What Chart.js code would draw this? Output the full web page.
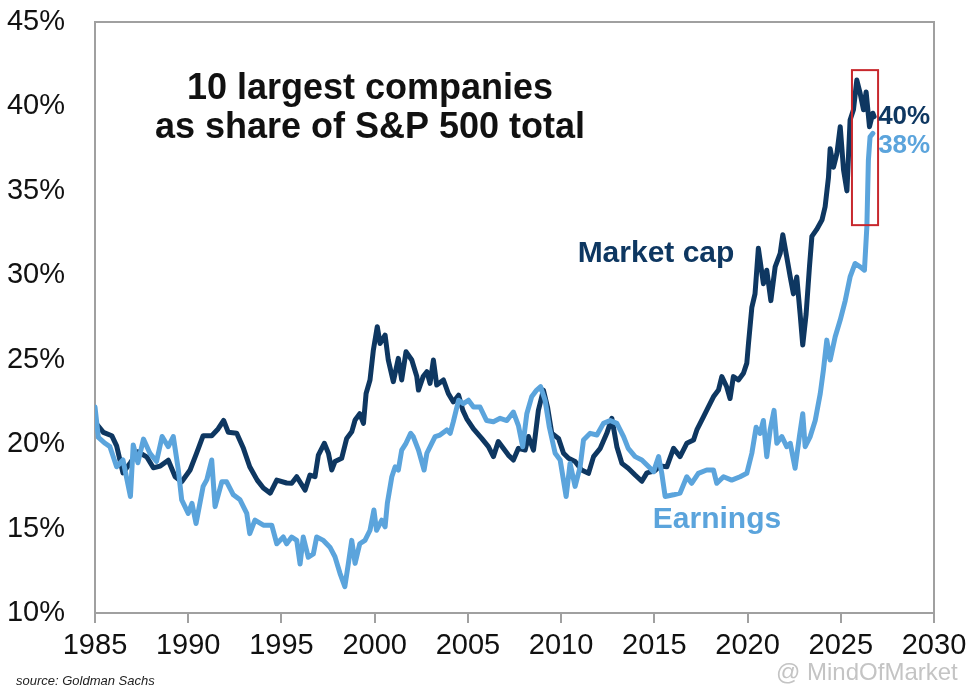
<!DOCTYPE html>
<html>
<head>
<meta charset="utf-8">
<title>10 largest companies as share of S&P 500 total</title>
<script src="https://cdn.jsdelivr.net/npm/chart.js@4.4.1/dist/chart.umd.min.js"></script>
<style>
  html, body { margin: 0; padding: 0; background: #fff; }
  #wrap { width: 974px; height: 695px; position: relative; }
</style>
</head>
<body>
<div id="wrap"><canvas id="myChart"></canvas></div>
<script>
// values (year, % of S&P 500)
var capYears = [
  1985.0, 1985.45, 1985.9, 1986.16, 1986.5, 1986.9, 1987.3, 1987.77, 1988.13, 1988.5,
  1988.93, 1989.3, 1989.65, 1990.1, 1990.45, 1990.8, 1991.26, 1991.6, 1991.9, 1992.15,
  1992.6, 1992.96, 1993.3, 1993.7, 1994.03, 1994.4, 1994.75, 1995.28, 1995.55, 1995.82,
  1996.27, 1996.53, 1996.8, 1996.98, 1997.3, 1997.52, 1997.7, 1997.87, 1998.23, 1998.5,
  1998.77, 1998.95, 1999.2, 1999.4, 1999.54, 1999.75, 1999.93, 2000.14, 2000.29, 2000.56,
  2000.73, 2001.0, 2001.27, 2001.45, 2001.68, 2001.99, 2002.26, 2002.35, 2002.6, 2002.8,
  2002.97, 2003.15, 2003.33, 2003.69, 2003.95, 2004.22, 2004.5, 2004.73, 2004.94, 2005.3,
  2005.74, 2006.1, 2006.37, 2006.63, 2006.9, 2007.17, 2007.44, 2007.71, 2008.07, 2008.25,
  2008.52, 2008.78, 2009.05, 2009.27, 2009.5, 2009.86, 2010.13, 2010.4, 2010.75, 2011.1,
  2011.47, 2011.74, 2012.1, 2012.45, 2012.72, 2012.99, 2013.26, 2013.6, 2013.97, 2014.33,
  2014.6, 2015.0, 2015.3, 2015.67, 2016.03, 2016.38, 2016.74, 2017.1, 2017.28, 2017.64,
  2017.9, 2018.17, 2018.44, 2018.62, 2018.88, 2019.06, 2019.24, 2019.51, 2019.78, 2019.96,
  2020.05, 2020.23, 2020.4, 2020.58, 2020.85, 2021.03, 2021.25, 2021.48, 2021.75, 2021.89,
  2022.1, 2022.29, 2022.46, 2022.64, 2022.82, 2022.96, 2023.14, 2023.32, 2023.45, 2023.7,
  2023.99, 2024.16, 2024.34, 2024.43, 2024.61, 2024.79, 2024.97, 2025.15, 2025.33, 2025.5,
  2025.68, 2025.86, 2026.04, 2026.22, 2026.36, 2026.54, 2026.72, 2026.79
];
var capValues = [
  21.3, 20.7, 20.5, 19.9, 18.3, 18.9, 19.55, 19.25, 18.6, 18.7,
  19.05, 18.07, 17.77, 18.47, 19.47, 20.5, 20.5, 20.9, 21.4, 20.7,
  20.65, 19.75, 18.66, 17.87, 17.4, 17.1, 17.87, 17.7, 17.68, 18.07,
  17.28, 18.17, 18.07, 19.35, 20.05, 19.46, 18.47, 18.97, 19.16, 20.34,
  20.73, 21.43, 21.8, 21.23, 23.0, 23.8, 25.57, 26.95, 25.96, 26.46,
  24.98, 23.7, 25.08, 23.8, 25.47, 24.98, 24.0, 23.2, 24.0, 24.29,
  23.6, 24.98, 23.5, 23.8, 23.0, 22.5, 22.9, 22.0, 21.5, 20.9,
  20.34, 19.85, 19.26, 20.15, 19.75, 19.35, 19.06, 19.75, 19.65, 20.45,
  19.65, 22.0, 23.2, 22.2, 20.64, 20.34, 19.46, 19.16, 18.97, 18.47,
  18.27, 19.26, 19.75, 20.64, 21.53, 19.85, 18.86, 18.57, 18.17, 17.8,
  18.3, 18.4, 18.7, 18.66, 19.75, 19.26, 20.05, 20.24, 20.84, 21.63,
  22.2, 22.8, 23.2, 24.0, 23.4, 22.7, 24.0, 23.8, 24.2, 24.8,
  25.96, 28.1, 28.9, 31.6, 29.5, 30.3, 28.5, 30.5, 31.3, 32.4,
  31.1, 29.9, 28.9, 29.9, 27.7, 25.87, 27.7, 30.5, 32.3, 32.7,
  33.27, 34.06, 35.8, 37.5, 36.4, 37.2, 38.8, 36.23, 35.0, 39.2,
  39.8, 41.56, 40.77, 39.8, 40.86, 38.8, 39.6, 39.4
];

var earnYears = [
  1985.0, 1985.18, 1985.54, 1985.8, 1986.16, 1986.5, 1986.9, 1987.05, 1987.3, 1987.6,
  1987.95, 1988.3, 1988.6, 1988.93, 1989.2, 1989.47, 1989.65, 1990.0, 1990.2, 1990.42,
  1990.8, 1991.0, 1991.26, 1991.44, 1991.8, 1992.06, 1992.42, 1992.78, 1993.14, 1993.3,
  1993.58, 1994.03, 1994.48, 1994.75, 1995.1, 1995.28, 1995.55, 1995.82, 1996.0, 1996.17,
  1996.44, 1996.71, 1996.89, 1997.25, 1997.6, 1997.87, 1998.14, 1998.4, 1998.59, 1998.77,
  1998.95, 1999.2, 1999.48, 1999.75, 1999.96, 2000.1, 2000.38, 2000.56, 2000.68, 2000.92,
  2001.1, 2001.27, 2001.45, 2001.68, 2001.93, 2002.07, 2002.35, 2002.65, 2002.8, 2003.06,
  2003.24, 2003.5, 2003.87, 2004.05, 2004.22, 2004.5, 2004.76, 2005.03, 2005.3, 2005.65,
  2006.0, 2006.37, 2006.73, 2007.09, 2007.44, 2007.71, 2007.94, 2008.16, 2008.42, 2008.69,
  2008.9, 2009.14, 2009.37, 2009.68, 2009.95, 2010.27, 2010.48, 2010.75, 2011.02, 2011.2,
  2011.56, 2011.92, 2012.27, 2012.63, 2012.99, 2013.35, 2013.6, 2013.97, 2014.33, 2014.7,
  2014.96, 2015.23, 2015.4, 2015.58, 2016.03, 2016.38, 2016.74, 2017.0, 2017.36, 2017.81,
  2018.17, 2018.35, 2018.71, 2019.15, 2019.6, 2019.96, 2020.23, 2020.46, 2020.67, 2020.85,
  2021.03, 2021.21, 2021.42, 2021.57, 2021.84, 2022.1, 2022.29, 2022.55, 2022.78, 2022.96,
  2023.09, 2023.36, 2023.63, 2023.9, 2024.07, 2024.25, 2024.43, 2024.7, 2024.97, 2025.24,
  2025.5, 2025.77, 2026.04, 2026.27, 2026.4, 2026.48, 2026.57, 2026.72
];
var earnValues = [
  22.2, 20.4, 20.05, 19.85, 18.66, 19.06, 16.9, 19.95, 18.9, 20.3,
  19.45, 18.97, 20.45, 19.85, 20.45, 18.47, 16.7, 15.9, 16.5, 15.3,
  17.5, 17.9, 19.06, 16.3, 17.77, 17.77, 17.0, 16.7, 15.9, 14.7,
  15.5, 15.2, 15.2, 14.1, 14.5, 14.1, 14.5, 14.3, 12.9, 14.5,
  13.3, 13.5, 14.5, 14.3, 13.9, 13.33, 12.35, 11.56, 12.94, 14.3,
  12.94, 14.1, 14.3, 14.9, 16.1, 14.9, 15.5, 15.1, 16.5, 18.07,
  18.66, 18.47, 19.65, 20.05, 20.64, 20.45, 19.65, 18.47, 19.46, 20.05,
  20.45, 20.54, 20.84, 20.64, 21.33, 22.6, 22.4, 22.6, 22.2, 22.2,
  21.4, 21.33, 21.53, 21.4, 21.9, 21.1, 19.85, 21.8, 22.8, 23.2,
  23.4, 22.6, 21.0, 19.46, 19.06, 16.9, 18.86, 17.5, 18.66, 20.24,
  20.64, 20.54, 21.23, 21.4, 21.23, 20.45, 19.75, 19.26, 19.06, 18.66,
  18.37, 19.26, 18.27, 16.9, 17.0, 17.1, 18.07, 17.68, 18.27, 18.47,
  18.47, 17.68, 18.07, 17.87, 18.07, 18.27, 19.46, 21.0, 20.64, 21.4,
  19.26, 20.84, 22.0, 20.05, 20.45, 19.85, 20.05, 18.57, 20.45, 21.8,
  19.85, 20.45, 21.4, 23.0, 24.4, 26.16, 24.98, 26.36, 27.35, 28.5,
  29.9, 30.7, 30.5, 30.3, 32.9, 36.8, 38.2, 38.4
];

var xTicks = [1985, 1990, 1995, 2000, 2005, 2010, 2015, 2020, 2025, 2030];
var yTicks = [10, 15, 20, 25, 30, 35, 40, 45];
var titleLines = ["10 largest companies", "as share of S&P 500 total"];
var capLabel = "Market cap";
var earnLabel = "Earnings";
var capEnd = "40%";
var earnEnd = "38%";
var sourceText = "source: Goldman Sachs";

var navy = "#0e3761";
var lightBlue = "#5ba4dc";
var fontFam = "'Liberation Sans', Arial, Helvetica, sans-serif";

function toPoints(xs, ys) {
    var out = [];
    for (var i = 0; i < xs.length; i += 1) {
        out.push({ x: xs[i], y: ys[i] });
    }
    return out;
}

// box on top/right, the labels and the red highlight
var extras = {
    id: "extras",
    afterDatasetsDraw: function(chart) {
        var ctx = chart.ctx;
        var a = chart.chartArea;
        var xs = chart.scales.x;
        var ys = chart.scales.y;
        ctx.save();

        ctx.strokeStyle = "#a0a0a0";
        ctx.lineWidth = 2;
        ctx.beginPath();
        ctx.moveTo(a.left, a.top);
        ctx.lineTo(a.right, a.top);
        ctx.lineTo(a.right, a.bottom);
        ctx.stroke();

        // red box round the latest readings
        var rx0 = xs.getPixelForValue(2025.6), rx1 = xs.getPixelForValue(2027.0);
        var ry0 = ys.getPixelForValue(42.15), ry1 = ys.getPixelForValue(32.97);
        ctx.strokeStyle = "#c8282d";
        ctx.lineWidth = 2;
        ctx.strokeRect(rx0, ry0, rx1 - rx0, ry1 - ry0);

        ctx.textAlign = "center";
        ctx.textBaseline = "alphabetic";
        ctx.fillStyle = "#111";
        ctx.font = "bold 36px " + fontFam;
        ctx.fillText(titleLines[0], 370, 99);
        ctx.fillText(titleLines[1], 370, 138);

        ctx.font = "bold 30px " + fontFam;
        ctx.fillStyle = navy;
        ctx.fillText(capLabel, 656, 262);
        ctx.fillStyle = lightBlue;
        ctx.fillText(earnLabel, 717, 528);

        var lastCapX = xs.getPixelForValue(capYears[capYears.length - 1]);
        var lastCapY = ys.getPixelForValue(capValues[capValues.length - 1]);
        var lastEarnY = ys.getPixelForValue(earnValues[earnValues.length - 1]);
        ctx.textAlign = "left";
        ctx.font = "bold 26px " + fontFam;
        ctx.fillStyle = navy;
        ctx.fillText(capEnd, lastCapX + 4, lastCapY + 7);
        ctx.fillStyle = lightBlue;
        ctx.fillText(earnEnd, lastCapX + 4, lastEarnY + 20);

        ctx.font = "italic 13px " + fontFam;
        ctx.fillStyle = "#222";
        ctx.fillText(sourceText, 16, 685);

        ctx.font = "24px " + fontFam;
        ctx.fillStyle = "#c4c4c4";
        ctx.fillText("@ MindOfMarket", 776, 680);

        ctx.restore();
    }
};

new Chart("myChart", {
    type: "line",
    data: {
        datasets: [
            {
                label: earnLabel,
                data: toPoints(earnYears, earnValues),
                borderColor: lightBlue,
                borderWidth: 5,
                pointRadius: 0,
                tension: 0,
                borderJoinStyle: "round",
                borderCapStyle: "round"
            },
            {
                label: capLabel,
                data: toPoints(capYears, capValues),
                borderColor: navy,
                borderWidth: 5,
                pointRadius: 0,
                tension: 0,
                borderJoinStyle: "round",
                borderCapStyle: "round"
            }
        ]
    },
    options: {
        responsive: true,
        maintainAspectRatio: false,
        animation: false,
        layout: { padding: { top: 22, right: 40, left: 0, bottom: 0 } },
        plugins: {
            legend: { display: false },
            tooltip: { enabled: false }
        },
        scales: {
            x: {
                type: "linear",
                min: xTicks[0],
                max: xTicks[xTicks.length - 1],
                afterBuildTicks: function(s) { s.ticks = xTicks.map(function(v) { return { value: v }; }); },
                ticks: {
                    callback: function(v) { return String(v); },
                    color: "#111",
                    font: { size: 29, family: fontFam },
                    padding: 6,
                    maxRotation: 0,
                    autoSkip: false
                },
                grid: { display: true, drawOnChartArea: false, drawTicks: true, tickLength: 10, color: "#a0a0a0", lineWidth: 2 },
                border: { display: true, color: "#a0a0a0", width: 2 },
                afterFit: function(s) { s.height = 82; }
            },
            y: {
                min: yTicks[0],
                max: yTicks[yTicks.length - 1],
                afterBuildTicks: function(s) { s.ticks = yTicks.map(function(v) { return { value: v }; }); },
                ticks: {
                    callback: function(v) { return v + "%"; },
                    color: "#111",
                    font: { size: 29, family: fontFam },
                    padding: 30
                },
                grid: { display: false, drawTicks: false },
                border: { display: true, color: "#a0a0a0", width: 2 },
                afterFit: function(s) {
                    s.width = 95;
                    s.paddingTop = 0;
                    s.paddingBottom = 0;
                }
            }
        }
    },
    plugins: [extras]
});
</script>
</body>
</html>
